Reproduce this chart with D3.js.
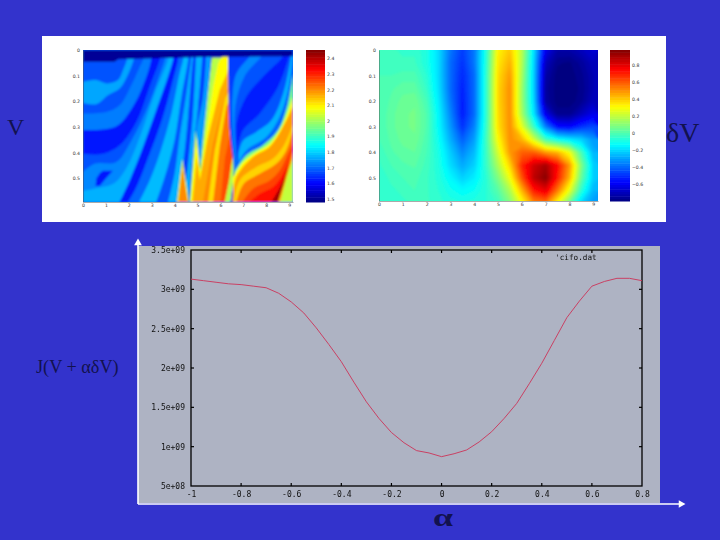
<!DOCTYPE html>
<html>
<head>
<meta charset="utf-8">
<script src="https://cdn.jsdelivr.net/npm/d3@7"></script>
<style>
html, body { margin: 0; padding: 0; background: #3333cc; }
svg { display: block; }
</style>
</head>
<body>
<svg id="chart" width="720" height="540"></svg>
<script>
// --- left map: velocity bands, [x, depth] edges
const stripeValues = [1.76, 1.68, 1.72, 1.62, 1.68, 1.73, 1.77, 1.62, 1.7, 1.78, 1.68, 1.77, 1.66, 1.77, 1.66, 1.75, 1.6];
const stripeEdges = [
  [[0,.124],[.58,.117],[1.02,.13],[1.53,.117],[1.75,.078],[1.92,.039],[2.04,0]],
  [[0,.206],[.58,.211],[1.09,.176],[1.6,.15],[1.92,.104],[2.21,.039],[2.3,0]],
  [[0,.247],[1.02,.241],[1.6,.215],[2.11,.137],[2.48,.065],[2.62,.039],[2.7,0]],
  [[0,.312],[.87,.31],[1.53,.293],[2.26,.208],[2.77,.104],[2.98,.039],[3.05,0]],
  [[0,.404],[.87,.404],[1.6,.371],[2.33,.28],[2.91,.143],[3.35,.039],[3.45,0]],
  [[0,.475],[.51,.443],[1.46,.436],[2.04,.365],[2.77,.234],[3.42,.078],[3.57,.039],[3.65,0]],
  [[0,.549],[.73,.536],[1.38,.518],[1.92,.456],[2.48,.339],[3.13,.169],[3.71,.039],[3.8,0]],
  [[1.6,.592],[2.04,.508],[2.62,.378],[3.2,.234],[3.71,.104],[3.93,.039],[4,0]],
  [[1.97,.592],[2.33,.534],[2.91,.404],[3.49,.26],[3.93,.117],[4.15,.039],[4.2,0]],
  [[2.45,.592],[2.91,.508],[3.35,.404],[3.86,.247],[4.22,.091],[4.37,.039],[4.42,0]],
  [[3.2,.592],[3.57,.495],[4,.352],[4.3,.182],[4.59,.039],[4.62,0]],
  [[3.71,.592],[4,.482],[4.22,.339],[4.5,.18],[4.72,.039],[4.78,0]],
  [[4.08,.592],[4.37,.443],[4.59,.26],[4.8,.039],[4.88,0]],
  [[4.37,.592],[4.59,.443],[4.8,.247],[4.95,0]],
  [[4.59,.592],[4.78,.417],[5.03,.221],[5.24,0]],
  [[4.66,.592],[4.95,.312],[5.24,.182],[5.39,0]],
  [[5.1,.475],[5.39,.247],[5.62,0]]
];
const patchValues = [1.62, 2.06, 2.2];
const patches = [
  [[.58,.5],[.73,.48],[.87,.47],[1.3,.47],[1,.5],[.73,.53],[.55,.53]],
  [[4.1,.592],[4.34,.425],[4.62,.592]],
  [[4.17,.592],[4.34,.45],[4.57,.592]]
];
const fanValues = [2.02, 2.09, 2.17, 2.2, 2.12, 2.22, 2.26, 2.02];
const fanEdges = [
  [[4.66,.592],[4.92,.312],[5.1,.475],[5.62,.029],[9.17,.029]],
  [[4.7,.592],[4.95,.339],[5.13,.482],[5.68,.143],[5.9,.052],[6.26,0]],
  [[4.78,.592],[4.98,.417],[5.1,.508],[5.46,.339],[5.97,.156],[6.29,.091],[6.5,0]],
  [[5.24,.592],[5.68,.365],[6.16,.195],[6.5,.1]],
  [[5.46,.592],[5.75,.391],[6.2,.189],[6.5,.13]],
  [[5.68,.592],[5.97,.378],[6.26,.221],[6.5,.18]],
  [[6,.592],[6.2,.42],[6.5,.3]],
  [[6.19,.592],[6.38,.508],[6.48,.443],[6.6,.39]]
];
const blockValues = [1.66, 1.73, 1.68, 1.63, 1.68, 1.77, 1.7, 1.96, 2.09, 2.18, 2.13, 2.22, 2.27, 2.32, 2.42, 2.16, 2.03];
const blockEdges = [
  [[6.44,.592],[6.58,.469],[6.41,.312],[6.33,0]],
  [[6.62,.443],[6.52,.312],[6.52,.182],[6.7,.091],[7.21,.033],[7.57,0]],
  [[6.7,.423],[6.62,.312],[6.7,.195],[7.13,.091],[7.72,.033],[8.01,0]],
  [[6.73,.378],[6.7,.286],[7.13,.182],[8.01,.091],[8.66,.033],[8.88,0]],
  [[6.78,.371],[6.99,.312],[7.72,.247],[8.52,.143],[8.95,.039],[9.06,0]],
  [[6.78,.404],[6.99,.352],[7.57,.319],[8.23,.273],[8.74,.169],[9.06,.039],[9.11,0]],
  [[6.81,.436],[7.13,.391],[8.01,.339],[8.59,.26],[8.95,.156],[9.17,.026]],
  [[6.62,.475],[7.13,.41],[7.86,.371],[8.52,.312],[8.95,.208],[9.17,.091]],
  [[6.55,.495],[6.99,.436],[7.57,.397],[8.15,.365],[8.74,.286],[9.17,.182]],
  [[6.52,.592],[6.7,.495],[7.43,.417],[8.15,.378],[8.66,.312],[9.17,.221]],
  [[6.58,.592],[6.84,.508],[7.57,.456],[8.3,.423],[8.81,.365],[9.17,.286]],
  [[6.7,.592],[7.02,.521],[7.72,.482],[8.44,.443],[8.88,.391],[9.17,.312]],
  [[6.96,.592],[7.43,.54],[8.15,.508],[8.59,.469],[8.95,.404],[9.17,.365]],
  [[7.28,.592],[7.72,.56],[8.3,.534],[8.66,.495],[9.17,.4]],
  [[8.23,.592],[8.44,.56],[8.74,.508],[9.17,.4]],
  [[8.52,.592],[8.81,.508],[9.17,.391]],
  [[8.62,.592],[8.95,.482],[9.17,.423]]
];
const topBandValue = 1.5;
const topBand = [[0,0],[9.17,0],[9.17,.024],[5.62,.026],[1.53,.036],[1.38,.046],[0,.046]];
const leftTicks = [1.5, 1.6, 1.7, 1.8, 1.9, 2, 2.1, 2.2, 2.3, 2.4];

// --- right map: dV on a grid, x every 0.5, depth every 0.05
const dvGrid = [
  [-.02,-.02,-.03,-.03,-.07,-.18,-.36,-.46,-.36,-.06,.34,.42,.2,-.17,-.6,-.72,-.72,-.68,-.64],
  [-.01,-.01,-.02,-.02,-.07,-.18,-.38,-.48,-.36,-.05,.36,.46,.19,-.19,-.68,-.77,-.78,-.74,-.68],
  [0,0,.01,.01,-.05,-.18,-.38,-.5,-.38,-.04,.38,.5,.17,-.2,-.72,-.79,-.79,-.76,-.7],
  [0,.02,.04,.04,-.03,-.17,-.38,-.51,-.38,-.04,.39,.52,.15,-.2,-.74,-.79,-.79,-.77,-.7],
  [0,.03,.06,.07,0,-.15,-.36,-.52,-.38,-.04,.39,.52,.15,-.19,-.73,-.79,-.79,-.76,-.68],
  [0,.04,.07,.08,.02,-.13,-.33,-.52,-.38,-.04,.38,.52,.17,-.16,-.6,-.76,-.76,-.68,-.6],
  [0,.04,.07,.08,.02,-.12,-.3,-.48,-.34,-.03,.37,.52,.28,-.02,-.34,-.54,-.56,-.48,-.44],
  [0,.03,.06,.07,.01,-.1,-.26,-.4,-.29,-.01,.32,.52,.45,.25,0,-.1,-.15,-.2,-.3],
  [-.02,.02,.04,.05,0,-.08,-.21,-.33,-.24,-.02,.25,.5,.6,.6,.5,.45,.3,0,-.25],
  [-.03,0,.02,.03,-.01,-.07,-.18,-.27,-.2,-.03,.18,.4,.7,.85,.92,.75,.5,.1,-.2],
  [-.04,-.02,0,.01,-.02,-.06,-.13,-.2,-.15,-.05,.1,.3,.62,.88,.97,.72,.45,.05,-.2],
  [-.05,-.03,-.02,0,-.02,-.05,-.09,-.12,-.1,-.05,.03,.18,.45,.72,.8,.55,.28,-.05,-.25],
  [-.05,-.04,-.03,-.02,-.02,-.04,-.06,-.07,-.06,-.05,-.02,.1,.3,.52,.55,.3,.05,-.2,-.3]
];
const rightTicks = [-.6, -.4, -.2, 0, .2, .4, .6, .8];
const mapXTicks = [0, 1, 2, 3, 4, 5, 6, 7, 8, 9];
const mapYTicks = [0, .1, .2, .3, .4, .5];

// --- bottom curve
const alpha = [-1,-.95,-.9,-.85,-.8,-.75,-.7,-.65,-.6,-.55,-.5,-.45,-.4,-.35,-.3,-.25,-.2,-.15,-.1,-.05,0,.05,.1,.15,.2,.25,.3,.35,.4,.45,.5,.55,.6,.65,.7,.75,.8];
const cost = [3.13,3.11,3.09,3.07,3.06,3.04,3.02,2.95,2.84,2.7,2.51,2.3,2.08,1.82,1.57,1.36,1.18,1.05,.95,.92,.873,.91,.958,1.06,1.19,1.36,1.55,1.8,2.06,2.35,2.64,2.85,3.04,3.1,3.14,3.14,3.11];
const costTicks = [.5, 1, 1.5, 2, 2.5, 3, 3.5];
const costLabels = ["5e+08", "1e+09", "1.5e+09", "2e+09", "2.5e+09", "3e+09", "3.5e+09"];
const alphaTicks = [-1, -.8, -.6, -.4, -.2, 0, .2, .4, .6, .8];
const alphaLabels = ["-1", "-0.8", "-0.6", "-0.4", "-0.2", "0", "0.2", "0.4", "0.6", "0.8"];

const svg = d3.select("#chart");
const ink = "#12124f";

const jet = d3.scaleLinear()
  .domain([0, .125, .375, .625, .875, 1])
  .range(["#000080", "#0000ff", "#00ffff", "#ffff00", "#ff0000", "#800000"]);

const defs = svg.append("defs");
defs.append("filter").attr("id", "soft")
  .attr("x", "-5%").attr("y", "-5%").attr("width", "110%").attr("height", "110%")
  .append("feGaussianBlur").attr("stdDeviation", 0.8);
defs.append("filter").attr("id", "softText")
  .append("feGaussianBlur").attr("stdDeviation", 0.25);

function clip(id, x0, y0, w, h) {
  defs.append("clipPath").attr("id", id).append("rect")
    .attr("x", x0).attr("y", y0).attr("width", w).attr("height", h);
}

// white panel behind the two maps
svg.append("rect").attr("x", 42).attr("y", 36).attr("width", 624).attr("height", 186).attr("fill", "#fff");

function mapAxes(xs, ys) {
  const gx = svg.append("g")
    .attr("transform", "translate(0," + ys.range()[0] + ")")
    .call(d3.axisBottom(xs).tickValues(mapXTicks).tickSize(0).tickPadding(2).tickFormat(d3.format("d")));
  const gy = svg.append("g")
    .attr("transform", "translate(" + xs.range()[0] + ",0)")
    .call(d3.axisLeft(ys).tickValues(mapYTicks).tickSize(0).tickPadding(3).tickFormat(d => d === 0 ? "0" : d3.format(".1f")(d)));
  [gx, gy].forEach(g => {
    g.selectAll("text").attr("font-family", "DejaVu Sans").attr("font-size", 4.6).attr("fill", "#333");
    g.select(".domain").attr("stroke", "#555").attr("stroke-width", 0.5);
  });
}

function colorbar(x0, x1, y, ticks, fmt) {
  const lo = y.domain()[0], hi = y.domain()[1];
  const color = d3.scaleLinear().domain([lo, hi]).range([0, 1]);
  const steps = d3.range(64);
  const step = (hi - lo) / 64;
  svg.append("g").selectAll("rect").data(steps).join("rect")
    .attr("x", x0)
    .attr("width", x1 - x0)
    .attr("y", d => y(lo + (d + 1) * step))
    .attr("height", d => y(lo + d * step) - y(lo + (d + 1) * step) + 0.5)
    .attr("fill", d => jet(color(lo + (d + 0.5) * step)));
  const g = svg.append("g")
    .attr("transform", "translate(" + x1 + ",0)")
    .call(d3.axisRight(y).tickValues(ticks).tickSize(0).tickPadding(2).tickFormat(fmt));
  g.select(".domain").remove();
  g.selectAll("text").attr("font-family", "DejaVu Sans").attr("font-size", 4.6).attr("fill", "#333");
}

// ---------- left map
const leftX = d3.scaleLinear().domain([0, 9.17]).range([83, 293]);
const leftY = d3.scaleLinear().domain([.592, 0]).range([202, 50]);
const leftBar = d3.scaleLinear().domain([1.479, 2.454]).range([202, 50]);
const leftColor = v => jet((v - 1.479) / (2.454 - 1.479));
const line = d3.line().x(d => leftX(d[0])).y(d => leftY(d[1]));
const smoothLine = d3.line().x(d => leftX(d[0])).y(d => leftY(d[1])).curve(d3.curveCatmullRom.alpha(.5));

// a band fills everything to the right of and below its edge
function bandPath(edge, lineFn) {
  const first = edge[0], last = edge[edge.length - 1];
  const closing = line([[9.17, last[1]], [9.17, .592], [first[0], .592]]).replace("M", "L");
  return lineFn(edge) + closing + "Z";
}

clip("clipLeft", 83, 50, 210, 152);
const leftMap = svg.append("g").attr("clip-path", "url(#clipLeft)").append("g").attr("filter", "url(#soft)");
leftMap.append("rect").attr("x", 80).attr("y", 47).attr("width", 216).attr("height", 158).attr("fill", leftColor(1.68));
function drawBands(edges, values, lineFn) {
  leftMap.append("g").selectAll("path").data(edges).join("path")
    .attr("d", d => bandPath(d, lineFn))
    .attr("fill", (d, i) => leftColor(values[i]));
}
drawBands(stripeEdges, stripeValues, smoothLine);
leftMap.append("g").selectAll("path").data(patches).join("path")
  .attr("d", d => line(d) + "Z")
  .attr("fill", (d, i) => leftColor(patchValues[i]));
drawBands(fanEdges, fanValues, line);
drawBands(blockEdges, blockValues, smoothLine);
leftMap.append("path").attr("d", line(topBand) + "Z").attr("fill", leftColor(topBandValue));
mapAxes(leftX, leftY);
colorbar(306, 325, leftBar, leftTicks, d => d === 2 ? "2" : d3.format(".1f")(d));

// ---------- right map
const rightX = d3.scaleLinear().domain([0, 9.2]).range([379, 598]);
const rightY = d3.scaleLinear().domain([.59, 0]).range([201, 50]);
const rightBar = d3.scaleLinear().domain([-.8, .976]).range([201, 50]);
const rightColor = v => jet((v + .8) / 1.776);

const nCols = dvGrid[0].length, nRows = dvGrid.length;
const contours = d3.contours()
  .size([nCols, nRows])
  .thresholds(d3.range(-.8, 1, .025))(dvGrid.flat());
// grid node i sits at i + 0.5 in contour space
const gridPath = d3.geoPath(d3.geoTransform({
  point: function(c, r) {
    this.stream.point(rightX((c - .5) * .5), rightY((r - .5) * .05));
  }
}));
clip("clipRight", 379, 50, 219, 151);
const rightMap = svg.append("g").attr("clip-path", "url(#clipRight)").append("g").attr("filter", "url(#soft)");
rightMap.append("rect").attr("x", 376).attr("y", 47).attr("width", 225).attr("height", 157).attr("fill", rightColor(-.8));
rightMap.selectAll("path").data(contours).join("path")
  .attr("d", gridPath)
  .attr("fill", d => rightColor(d.value));
mapAxes(rightX, rightY);
colorbar(610, 630, rightBar, rightTicks, d => d === 0 ? "0" : d3.format(".1f")(d).replace("-", "\u2212"));

// ---------- bottom plot
svg.append("rect").attr("x", 138).attr("y", 246).attr("width", 522).attr("height", 257).attr("fill", "#aeb3c3");

const x = d3.scaleLinear().domain([-1, .8]).range([191, 642]);
const y = d3.scaleLinear().domain([.5, 3.5]).range([486, 250]);

const axisX = svg.append("g").attr("transform", "translate(0,486)")
  .call(d3.axisBottom(x).tickValues(alphaTicks).tickSize(0).tickPadding(5).tickFormat((d, i) => alphaLabels[i]));
const axisY = svg.append("g").attr("transform", "translate(191,0)")
  .call(d3.axisLeft(y).tickValues(costTicks).tickSize(0).tickPadding(6).tickFormat((d, i) => costLabels[i]));
[axisX, axisY].forEach(g => {
  g.select(".domain").remove();
  g.selectAll("text")
    .attr("font-family", "DejaVu Sans Mono").attr("font-size", 8).attr("fill", "#111")
    .attr("filter", "url(#softText)");
});

// inward ticks on all four sides
svg.append("g").selectAll("line").data(alphaTicks.slice(1, -1)).join("line")
  .attr("x1", d => x(d)).attr("x2", d => x(d)).attr("y1", 486).attr("y2", 483);
svg.append("g").selectAll("line").data(alphaTicks.slice(1, -1)).join("line")
  .attr("x1", d => x(d)).attr("x2", d => x(d)).attr("y1", 250).attr("y2", 253);
svg.append("g").selectAll("line").data(costTicks.slice(1, -1)).join("line")
  .attr("x1", 191).attr("x2", 194).attr("y1", d => y(d)).attr("y2", d => y(d));
svg.append("g").selectAll("line").data(costTicks.slice(1, -1)).join("line")
  .attr("x1", 642).attr("x2", 639).attr("y1", d => y(d)).attr("y2", d => y(d));
svg.selectAll("g > line").attr("stroke", "#000").attr("stroke-width", 1.2);

svg.append("rect").attr("x", 191).attr("y", 250).attr("width", 451).attr("height", 236)
  .attr("fill", "none").attr("stroke", "#000").attr("stroke-width", 1.3);

svg.append("path")
  .attr("d", d3.line().x((d, i) => x(alpha[i])).y(d => y(d))(cost))
  .attr("fill", "none").attr("stroke", "#cc3358").attr("stroke-width", 0.9);

svg.append("text").attr("x", 555).attr("y", 260).text("'cifo.dat")
  .attr("font-family", "DejaVu Sans Mono").attr("font-size", 7.7).attr("fill", "#111")
  .attr("filter", "url(#softText)");

// white arrows along the plot
svg.append("line").attr("x1", 138).attr("y1", 504).attr("x2", 138).attr("y2", 244)
  .attr("stroke", "#fff").attr("stroke-width", 1.6);
svg.append("line").attr("x1", 138).attr("y1", 504).attr("x2", 680).attr("y2", 504)
  .attr("stroke", "#fff").attr("stroke-width", 1.6);
svg.append("path").attr("d", d3.symbol(d3.symbolTriangle, 26)()).attr("fill", "#fff")
  .attr("transform", "translate(138,243)");
svg.append("path").attr("d", d3.symbol(d3.symbolTriangle, 26)()).attr("fill", "#fff")
  .attr("transform", "translate(681,504) rotate(90)");

// ---------- slide labels
const serif = "Liberation Serif";
svg.append("text").attr("x", 7).attr("y", 135).text("V")
  .attr("font-family", serif).attr("font-size", 24).attr("fill", ink);
svg.append("text").attr("x", 666).attr("y", 142).text("\u03b4V")
  .attr("font-family", serif).attr("font-size", 28).attr("fill", ink);
svg.append("text").attr("x", 36).attr("y", 373).text("J(V + \u03b1\u03b4V)")
  .attr("font-family", serif).attr("font-size", 18.2).attr("fill", ink);
svg.append("text").attr("x", 433).attr("y", 526).text("\u03b1")
  .attr("font-family", serif).attr("font-size", 26).attr("font-weight", "bold").attr("fill", ink)
  .attr("textLength", 20).attr("lengthAdjust", "spacingAndGlyphs");
</script>
</body>
</html>
